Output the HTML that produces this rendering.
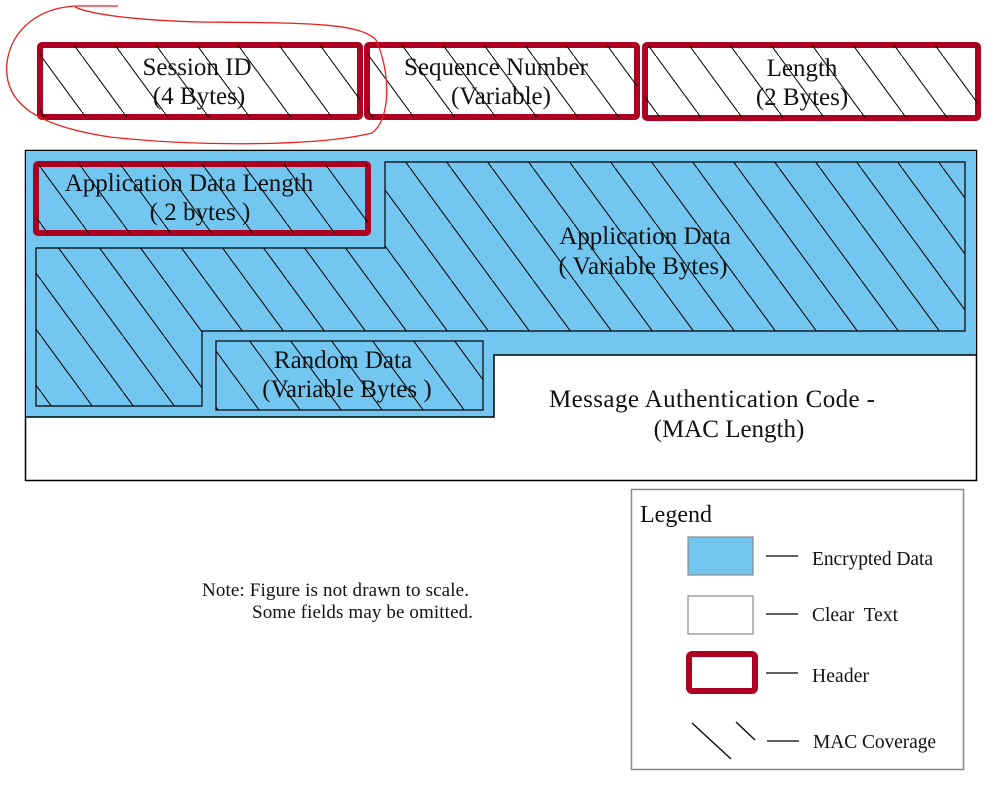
<!DOCTYPE html>
<html><head><meta charset="utf-8"><style>
html,body{margin:0;padding:0;background:#fff;}
svg{display:block;}
text{font-family:"Liberation Serif",serif;fill:#111;}
</style></head><body>
<svg width="994" height="792" viewBox="0 0 994 792" xmlns="http://www.w3.org/2000/svg">
<defs>
<pattern id="h" patternUnits="userSpaceOnUse" width="41" height="56">
<line x1="-41" y1="-56" x2="82" y2="112" stroke="#000" stroke-width="1"/>
</pattern>
</defs>
<rect x="40" y="45" width="320" height="72" fill="#fff" stroke="#ae0020" stroke-width="6" rx="2"/>
<rect x="40" y="45" width="320" height="72" fill="url(#h)"/>
<rect x="367" y="45" width="270" height="72" fill="#fff" stroke="#ae0020" stroke-width="6" rx="2"/>
<rect x="367" y="45" width="270" height="72" fill="url(#h)"/>
<rect x="645" y="45" width="333" height="73" fill="#fff" stroke="#ae0020" stroke-width="6" rx="2"/>
<rect x="645" y="45" width="333" height="73" fill="url(#h)"/>
<text x="197" y="75" font-size="25" text-anchor="middle">Session ID</text>
<text x="199" y="104" font-size="25" text-anchor="middle">(4 Bytes)</text>
<text x="496" y="75" font-size="25" text-anchor="middle">Sequence Number</text>
<text x="501" y="104" font-size="25" text-anchor="middle">(Variable)</text>
<text x="802" y="76" font-size="25" text-anchor="middle">Length</text>
<text x="802" y="105" font-size="25" text-anchor="middle">(2 Bytes)</text>
<path d="M118,6 L75,6 C40,8 12,28 7,62 C3,100 30,125 110,137 C200,147 320,146 372,133 C392,118 390,70 376,40 C360,22 300,23 200,22 C130,20 90,14 75,7" fill="none" stroke="#e82020" stroke-width="1.3"/>
<rect x="25.5" y="150.5" width="951" height="330" fill="#fff" stroke="#000" stroke-width="1.5"/>
<polygon points="26,151 976,151 976,355 494,355 494,417 26,417" fill="#72c6ef"/>
<polyline points="26,417 494,417 494,355 976,355" fill="none" stroke="#000" stroke-width="1.5"/>
<polygon points="385,162 965,162 965,331 202,331 202,406 36,406 36,248 385,248" fill="url(#h)" stroke="#000" stroke-width="1.2"/>
<rect x="36" y="164" width="332" height="69" fill="#72c6ef" stroke="#ae0020" stroke-width="6" rx="2"/>
<rect x="36" y="164" width="332" height="69" fill="url(#h)"/>
<rect x="216" y="341" width="267" height="69" fill="url(#h)" stroke="#000" stroke-width="1.2"/>
<text x="189" y="191" font-size="25" text-anchor="middle">Application Data Length</text>
<text x="200" y="220" font-size="25" text-anchor="middle">( 2 bytes )</text>
<text x="645" y="244" font-size="25" text-anchor="middle">Application Data</text>
<text x="643" y="274" font-size="25" text-anchor="middle">( Variable Bytes)</text>
<text x="343" y="368" font-size="25" text-anchor="middle">Random Data</text>
<text x="347" y="397" font-size="25" text-anchor="middle">(Variable Bytes )</text>
<text x="549" y="407" font-size="25" textLength="326">Message Authentication Code -</text>
<text x="729" y="437" font-size="25" text-anchor="middle">(MAC Length)</text>
<text x="202" y="596" font-size="19" textLength="267">Note: Figure is not drawn to scale.</text>
<text x="252" y="618" font-size="19" textLength="221">Some fields may be omitted.</text>
<rect x="631.5" y="489.5" width="332" height="280" fill="#fff" stroke="#888" stroke-width="1.5"/>
<text x="640" y="522" font-size="24">Legend</text>
<rect x="688" y="537" width="65" height="38" fill="#72c6ef" stroke="#888" stroke-width="1.2"/>
<rect x="688" y="596" width="65" height="38" fill="#fff" stroke="#888" stroke-width="1.2"/>
<rect x="689" y="654" width="66" height="37" fill="#fff" stroke="#ae0020" stroke-width="6" rx="3"/>
<line x1="692" y1="723" x2="731" y2="759" stroke="#000" stroke-width="1.3"/>
<line x1="736" y1="722" x2="755" y2="740" stroke="#000" stroke-width="1.3"/>
<line x1="766" y1="556" x2="798" y2="556" stroke="#000" stroke-width="1.3"/>
<line x1="766" y1="614" x2="798" y2="614" stroke="#000" stroke-width="1.3"/>
<line x1="766" y1="673" x2="798" y2="673" stroke="#000" stroke-width="1.3"/>
<line x1="767" y1="741" x2="799" y2="741" stroke="#000" stroke-width="1.3"/>
<text x="812" y="565" font-size="19.5" textLength="121">Encrypted Data</text>
<text x="812" y="621" font-size="19.5" xml:space="preserve" textLength="86">Clear  Text</text>
<text x="812" y="682" font-size="19.5" textLength="57">Header</text>
<text x="813" y="748" font-size="19.5" textLength="123">MAC Coverage</text>
</svg>
</body></html>
